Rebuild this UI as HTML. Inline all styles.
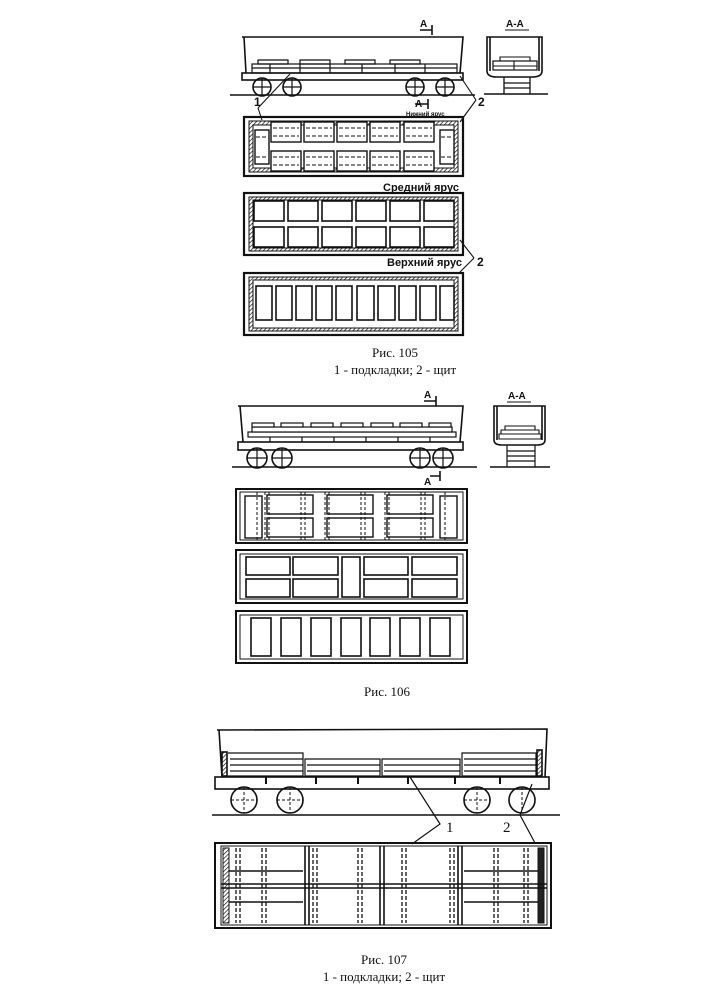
<!DOCTYPE html>
<html><head><meta charset="utf-8"><style>
html,body{margin:0;padding:0;background:#fff}
svg{display:block}
text{font-family:"Liberation Serif",serif;fill:#111}
.b{font-family:"Liberation Sans",sans-serif;font-weight:bold}
</style></head><body>
<svg width="705" height="997" viewBox="0 0 705 997" xmlns="http://www.w3.org/2000/svg" fill="none" stroke="#111" stroke-width="1.6">
<defs>
<pattern id="h" width="3" height="3" patternUnits="userSpaceOnUse" patternTransform="rotate(45)"><line x1="0" y1="0" x2="0" y2="3" stroke="#111" stroke-width="1.4"/></pattern>
</defs>

<!-- ===== FIG 105 ===== -->
<g>
<text x="420" y="27" font-size="10" class="b" stroke="none">A</text>
<path d="M420 30 L432 30 M432 25 L432 35"/>
<path d="M242 37 L463 37 L460 73 M244 37 L246 73"/>
<rect x="242" y="73" width="221" height="7"/>
<g stroke-width="1.2">
<rect x="252" y="64" width="205" height="9"/>
<path d="M252 68 L457 68 M270 64 v9 M300 64 v9 M330 64 v9 M362 64 v9 M395 64 v9 M425 64 v9"/>
<path d="M258 64 h30 v-4 h-30z M300 64 h30 v-4 h-30z M345 64 h30 v-4 h-30z M390 64 h30 v-4 h-30z"/>
</g>
<circle cx="262" cy="87" r="9"/><circle cx="292" cy="87" r="9"/><circle cx="415" cy="87" r="9"/><circle cx="445" cy="87" r="9"/>
<path d="M262 78v18M253 87h18M292 78v18M283 87h18M415 78v18M406 87h18M445 78v18M436 87h18" stroke-width="1.2"/>
<path d="M230 95 L475 95"/>
<text x="415" y="107" font-size="10" class="b" stroke="none">A</text>
<path d="M415 104 L428 104 M428 99 L428 109"/>
<text x="254" y="106" font-size="12" class="b" stroke="none">1</text>
<path d="M258 108 L290 74" stroke-width="1.1"/>
<path d="M258 108 L262 120" stroke-width="1.1"/>
<text x="478" y="106" font-size="12" class="b" stroke="none">2</text>
<path d="M476 100 L460 76 M476 100 L460 122" stroke-width="1.1"/>
<text x="406" y="116" font-size="6" class="b" stroke="none">Нижний ярус</text>
<!-- A-A -->
<text x="506" y="27" font-size="10" class="b" stroke="none">A-A</text>
<path d="M505 30 h24" stroke-width="1"/>
<path d="M487 37 h55 v34 q0 6 -10 6 h-35 q-10 0 -10 -6z M490 37 v34 M539 37 v34"/>
<rect x="493" y="61" width="44" height="9" stroke-width="1.2"/>
<path d="M500 61 v-4 h30 v4 M514 61 v9 M493 66 h44" stroke-width="1.1"/>
<path d="M504 77 v17 M530 77 v17 M504 83 h26 M504 88 h26" stroke-width="1.3"/>
<path d="M484 94 h64"/>
<!-- plan 1 -->
<rect x="244" y="117" width="219" height="59" stroke-width="2.2"/>
<rect x="249" y="121" width="209" height="51" fill="url(#h)" stroke-width="1"/>
<rect x="253" y="125" width="201" height="43" fill="#fff" stroke-width="1"/>
<g stroke-width="1.4" fill="#fff">
<rect x="271" y="122" width="30" height="20"/><rect x="304" y="122" width="30" height="20"/><rect x="337" y="122" width="30" height="20"/><rect x="370" y="122" width="30" height="20"/><rect x="404" y="122" width="30" height="20"/>
<rect x="271" y="151" width="30" height="20"/><rect x="304" y="151" width="30" height="20"/><rect x="337" y="151" width="30" height="20"/><rect x="370" y="151" width="30" height="20"/><rect x="404" y="151" width="30" height="20"/>
<rect x="255" y="130" width="14" height="34"/><rect x="440" y="130" width="14" height="34"/>
</g>
<g stroke-width="1" stroke-dasharray="4 2">
<path d="M273 128h26M306 128h26M339 128h26M372 128h26M406 128h26M273 136h26M306 136h26M339 136h26M372 136h26M406 136h26"/>
<path d="M273 157h26M306 157h26M339 157h26M372 157h26M406 157h26M273 165h26M306 165h26M339 165h26M372 165h26M406 165h26"/>
<path d="M256 137h12M256 157h12M441 137h12M441 157h12"/>
</g>
<text x="383" y="191" font-size="11" class="b" stroke="none">Средний ярус</text>
<!-- plan 2 -->
<rect x="244" y="193" width="219" height="62" stroke-width="2.2"/>
<rect x="249" y="197" width="209" height="54" fill="url(#h)" stroke-width="1"/>
<rect x="253" y="200" width="201" height="48" fill="#fff" stroke-width="1"/>
<g stroke-width="1.6">
<rect x="254" y="201" width="30" height="20"/><rect x="288" y="201" width="30" height="20"/><rect x="322" y="201" width="30" height="20"/><rect x="356" y="201" width="30" height="20"/><rect x="390" y="201" width="30" height="20"/><rect x="424" y="201" width="30" height="20"/>
<rect x="254" y="227" width="30" height="20"/><rect x="288" y="227" width="30" height="20"/><rect x="322" y="227" width="30" height="20"/><rect x="356" y="227" width="30" height="20"/><rect x="390" y="227" width="30" height="20"/><rect x="424" y="227" width="30" height="20"/>
</g>
<text x="387" y="266" font-size="11" class="b" stroke="none">Верхний ярус</text>
<text x="477" y="266" font-size="12" class="b" stroke="none">2</text>
<path d="M474 258 L460 240 M474 258 L460 272" stroke-width="1.1"/>
<!-- plan 3 -->
<rect x="244" y="273" width="219" height="62" stroke-width="2.2"/>
<rect x="249" y="277" width="209" height="54" fill="url(#h)" stroke-width="1"/>
<rect x="253" y="280" width="201" height="48" fill="#fff" stroke-width="1"/>
<g stroke-width="1.6">
<rect x="256" y="286" width="16" height="34"/><rect x="276" y="286" width="16" height="34"/><rect x="296" y="286" width="16" height="34"/><rect x="316" y="286" width="16" height="34"/><rect x="336" y="286" width="16" height="34"/><rect x="357" y="286" width="17" height="34"/><rect x="378" y="286" width="17" height="34"/><rect x="399" y="286" width="17" height="34"/><rect x="420" y="286" width="16" height="34"/><rect x="440" y="286" width="14" height="34"/>
</g>
<text x="395" y="357" font-size="13" text-anchor="middle" stroke="none">Рис. 105</text>
<text x="395" y="374" font-size="13" text-anchor="middle" stroke="none">1 - подкладки; 2 - щит</text>
</g>

<!-- ===== FIG 106 ===== -->
<g>
<text x="424" y="398" font-size="10" class="b" stroke="none">A</text>
<path d="M424 401 h12 M436 396 v10"/>
<path d="M238 406 L463 406 L460 442 M240 406 L243 442"/>
<rect x="238" y="442" width="225" height="8"/>
<g stroke-width="1.2" fill="#fff">
<rect x="248" y="432" width="208" height="5"/>
<rect x="252" y="427" width="200" height="5"/>
<rect x="252" y="423" width="22" height="4"/><rect x="281" y="423" width="22" height="4"/><rect x="311" y="423" width="22" height="4"/><rect x="341" y="423" width="22" height="4"/><rect x="371" y="423" width="22" height="4"/><rect x="400" y="423" width="22" height="4"/><rect x="429" y="423" width="22" height="4"/>
<path d="M270 437v5M302 437v5M334 437v5M366 437v5M398 437v5M430 437v5"/>
</g>
<circle cx="257" cy="458" r="10"/><circle cx="282" cy="458" r="10"/><circle cx="420" cy="458" r="10"/><circle cx="443" cy="458" r="10"/>
<path d="M257 448v20M247 458h20M282 448v20M272 458h20M420 448v20M410 458h20M443 448v20M433 458h20" stroke-width="1.2"/>
<path d="M232 467 h245"/>
<text x="424" y="485" font-size="10" class="b" stroke="none">A</text>
<path d="M430 476 h10 M440 471 v10"/>
<text x="508" y="399" font-size="10" class="b" stroke="none">A-A</text>
<path d="M507 402 h24" stroke-width="1"/>
<path d="M494 406 h51 v34 q0 5 -8 5 h-35 q-8 0 -8 -5z M497 406 v34 M542 406 v34"/>
<path d="M499 439 h42 v-5 h-42z M501 434 h38 v-4 h-38z M505 430 h30 v-4 h-30z" stroke-width="1.1"/>
<path d="M507 445 v22 M535 445 v22 M507 451h28 M507 456h28 M507 461h28" stroke-width="1.2"/>
<path d="M490 467 h60"/>
<!-- plan 1 -->
<rect x="236" y="489" width="231" height="54" stroke-width="2"/>
<rect x="240" y="492" width="223" height="48" stroke-width="1"/>
<g stroke-width="1.4">
<rect x="267" y="495" width="46" height="19"/><rect x="267" y="518" width="46" height="19"/>
<rect x="327" y="495" width="46" height="19"/><rect x="327" y="518" width="46" height="19"/>
<rect x="387" y="495" width="46" height="19"/><rect x="387" y="518" width="46" height="19"/>
<rect x="245" y="496" width="17" height="42"/><rect x="440" y="496" width="17" height="42"/>
</g>
<g stroke-width="1" stroke-dasharray="3 2">
<path d="M265 492v48M269 492v48M301 492v48M305 492v48M325 492v48M329 492v48M361 492v48M365 492v48M385 492v48M389 492v48M421 492v48M425 492v48M257 492v48M445 492v48"/>
</g>
<!-- plan 2 -->
<rect x="236" y="550" width="231" height="53" stroke-width="2"/>
<rect x="240" y="554" width="223" height="45" stroke-width="1"/>
<g stroke-width="1.6">
<rect x="246" y="557" width="44" height="18"/><rect x="293" y="557" width="45" height="18"/><rect x="364" y="557" width="44" height="18"/><rect x="412" y="557" width="45" height="18"/>
<rect x="246" y="579" width="44" height="18"/><rect x="293" y="579" width="45" height="18"/><rect x="364" y="579" width="44" height="18"/><rect x="412" y="579" width="45" height="18"/>
<rect x="342" y="557" width="18" height="40"/>
</g>
<!-- plan 3 -->
<rect x="236" y="611" width="231" height="52" stroke-width="2"/>
<rect x="240" y="615" width="223" height="44" stroke-width="1"/>
<g stroke-width="1.6">
<rect x="251" y="618" width="20" height="38"/><rect x="281" y="618" width="20" height="38"/><rect x="311" y="618" width="20" height="38"/><rect x="341" y="618" width="20" height="38"/><rect x="370" y="618" width="20" height="38"/><rect x="400" y="618" width="20" height="38"/><rect x="430" y="618" width="20" height="38"/>
</g>
<text x="387" y="696" font-size="13" text-anchor="middle" stroke="none">Рис. 106</text>
</g>

<!-- ===== FIG 107 ===== -->
<g>
<path d="M217 730 L547 729 L545 777 M219 730 L222 777"/>
<rect x="215" y="777" width="334" height="12"/>
<rect x="222" y="752" width="5" height="24" fill="url(#h)"/><rect x="537" y="750" width="5" height="26" fill="url(#h)"/>
<g stroke-width="1.2">
<path d="M228 753 h75 v23 h-75 M230 759h73M230 765h73M230 771h73"/>
<path d="M305 759 h75 v17 h-75z M307 765h73M307 771h73"/>
<path d="M382 759 h78 v17 h-78z M384 765h76M384 771h76"/>
<path d="M462 753 h74 v23 h-74z M464 759h72M464 765h72M464 771h72"/>
<path d="M266 777v7M316 777v7M358 777v7M408 777v7M455 777v7M500 777v7" stroke-width="2"/>
</g>
<circle cx="244" cy="800" r="13"/><circle cx="290" cy="800" r="13"/><circle cx="477" cy="800" r="13"/><circle cx="522" cy="800" r="13"/>
<path d="M244 787v26M231 800h26M290 787v26M277 800h26M477 787v26M464 800h26M522 787v26" stroke-width="1" stroke-dasharray="3 2"/>
<path d="M212 815 h348"/>
<text x="446" y="832" font-size="15" font-family="Liberation Sans" stroke="none">1</text>
<text x="503" y="832" font-size="15" font-family="Liberation Sans" stroke="none">2</text>
<path d="M410 777 L440 824 L412 844" stroke-width="1.2"/>
<path d="M532 784 L520 815 L535 843" stroke-width="1.2"/>
<!-- plan -->
<rect x="215" y="843" width="336" height="85" stroke-width="2"/>
<rect x="221" y="846" width="326" height="79" stroke-width="1"/>
<rect x="223" y="848" width="6" height="75" fill="url(#h)" stroke-width="1"/>
<rect x="538" y="848" width="6" height="75" fill="#222" stroke-width="1"/>
<g stroke-width="1.6">
<path d="M229 871 h74 M229 902 h74 M464 871 h74 M464 902 h74 M221 884 h326 M221 888 h326"/>
<path d="M305 846 v79 M309 846 v79 M380 846 v79 M384 846 v79 M458 846 v79 M462 846 v79"/>
</g>
<g stroke-width="1.3" stroke-dasharray="4 2">
<path d="M236 848v75M240 848v75M262 848v75M266 848v75M313 848v75M317 848v75M358 848v75M362 848v75M402 848v75M406 848v75M450 848v75M454 848v75M494 848v75M498 848v75M524 848v75M528 848v75"/>
</g>
<text x="384" y="964" font-size="13" text-anchor="middle" stroke="none">Рис. 107</text>
<text x="384" y="981" font-size="13" text-anchor="middle" stroke="none">1 - подкладки; 2 - щит</text>
</g>
</svg>
</body></html>
